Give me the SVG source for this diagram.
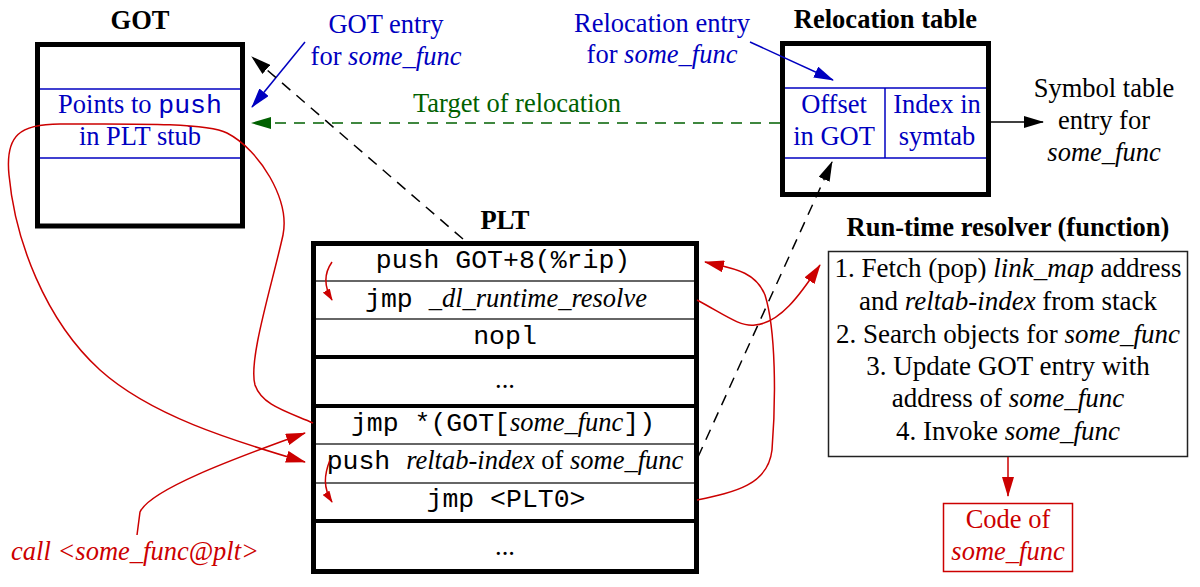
<svg xmlns="http://www.w3.org/2000/svg" width="1200" height="587" viewBox="0 0 1200 587">
<style>
text{font-family:"Liberation Serif","Times New Roman",serif;font-size:26.5px;text-anchor:middle}
.b{font-weight:bold}
.m{font-family:"Liberation Mono","Courier New",monospace}
.i{font-style:italic}
.blue{fill:#0000c0}
.green{fill:#006000}
.red{fill:#cc0000}
.frame{fill:#fff;stroke:#000;stroke-width:5}
.thin{stroke:#333;stroke-width:1.5}
.thick{stroke:#000;stroke-width:4}
.bl{stroke:#0000c0;stroke-width:1.5;fill:none}
.rl{stroke:#cc0000;stroke-width:1.5;fill:none}
.dash{stroke:#000;stroke-width:1.5;stroke-dasharray:11 8;fill:none}
.gdash{stroke:#006000;stroke-width:1.5;stroke-dasharray:11 8;fill:none}
</style>
<defs>
<marker id="ak" markerWidth="20" markerHeight="12" refX="19" refY="6" orient="auto" markerUnits="userSpaceOnUse"><path d="M0,0 L20,6 L0,12 z" fill="#000"/></marker>
<marker id="ab" markerWidth="20" markerHeight="12" refX="19" refY="6" orient="auto" markerUnits="userSpaceOnUse"><path d="M0,0 L20,6 L0,12 z" fill="#0000c0"/></marker>
<marker id="ag" markerWidth="20" markerHeight="12" refX="19" refY="6" orient="auto" markerUnits="userSpaceOnUse"><path d="M0,0 L20,6 L0,12 z" fill="#006000"/></marker>
<marker id="ar" markerWidth="20" markerHeight="12" refX="19" refY="6" orient="auto" markerUnits="userSpaceOnUse"><path d="M0,0 L20,6 L0,12 z" fill="#cc0000"/></marker>
<marker id="ars" markerWidth="12" markerHeight="8" refX="11" refY="4" orient="auto" markerUnits="userSpaceOnUse"><path d="M0,0 L12,4 L0,8 z" fill="#cc0000"/></marker>
</defs>
<rect width="1200" height="587" fill="#fff"/>

<g id="got">
<text class="b" x="140" y="29">GOT</text>
<rect class="frame" x="37.5" y="44.5" width="205" height="181.5"/>
<line class="bl" x1="40" y1="89" x2="240" y2="89"/>
<line class="bl" x1="40" y1="158" x2="240" y2="158"/>
<text class="blue" x="140" y="113">Points to <tspan class="m">push</tspan></text>
<text class="blue" x="140" y="145">in PLT stub</text>
</g>

<g id="reloc">
<text class="b" x="885.5" y="28">Relocation table</text>
<rect class="frame" x="782.5" y="43.5" width="206" height="151"/>
<line class="bl" x1="785" y1="88" x2="986" y2="88"/>
<line class="bl" x1="785" y1="158" x2="986" y2="158"/>
<line class="bl" x1="885" y1="88" x2="885" y2="158"/>
<text class="blue" x="834" y="113">Offset</text>
<text class="blue" x="834" y="145">in GOT</text>
<text class="blue" x="937" y="113">Index in</text>
<text class="blue" x="937" y="145">symtab</text>
</g>

<g id="plt">
<text class="b" x="505" y="229">PLT</text>
<rect class="frame" x="313.5" y="243.5" width="383" height="328"/>
<line class="thin" x1="316" y1="281" x2="694" y2="281"/>
<line class="thin" x1="316" y1="319" x2="694" y2="319"/>
<line class="thick" x1="316" y1="357" x2="694" y2="357"/>
<line class="thick" x1="316" y1="406" x2="694" y2="406"/>
<line class="thin" x1="316" y1="444" x2="694" y2="444"/>
<line class="thin" x1="316" y1="483" x2="694" y2="483"/>
<line class="thick" x1="316" y1="521" x2="694" y2="521"/>
<text class="m" x="503" y="268">push GOT+8(%rip)</text>
<text x="506" y="307"><tspan class="m">jmp </tspan><tspan class="i">_dl_runtime_resolve</tspan></text>
<text class="m" x="505" y="344">nopl</text>
<text x="505" y="388">...</text>
<text x="503" y="431"><tspan class="m">jmp *(GOT[</tspan><tspan class="i">some_func</tspan><tspan class="m">])</tspan></text>
<text x="505" y="469"><tspan class="m">push </tspan><tspan class="i">reltab-index</tspan> of <tspan class="i">some_func</tspan></text>
<text class="m" x="506" y="507">jmp &lt;PLT0&gt;</text>
<text x="505" y="555">...</text>
</g>

<g id="resolver">
<text class="b" x="1008" y="236">Run-time resolver (function)</text>
<rect x="828.5" y="251.5" width="359" height="205" fill="#fff" stroke="#222" stroke-width="1.5"/>
<text x="1008" y="277" style="font-size:27px">1. Fetch (pop) <tspan class="i">link_map</tspan> address</text>
<text x="1008" y="310" style="font-size:27px">and <tspan class="i">reltab-index</tspan> from stack</text>
<text x="1008" y="343" style="font-size:27px">2. Search objects for <tspan class="i">some_func</tspan></text>
<text x="1008" y="375" style="font-size:27px">3. Update GOT entry with</text>
<text x="1008" y="407" style="font-size:27px">address of <tspan class="i">some_func</tspan></text>
<text x="1008" y="440" style="font-size:27px">4. Invoke <tspan class="i">some_func</tspan></text>
</g>

<g id="code">
<rect x="943.5" y="503.5" width="129" height="68" fill="#fff" stroke="#cc0000" stroke-width="1.5"/>
<text class="red" x="1008" y="528">Code of</text>
<text class="red i" x="1008" y="560">some_func</text>
</g>

<g id="got-entry-label">
<text class="blue" x="386" y="33">GOT entry</text>
<text class="blue" x="386" y="65">for <tspan class="i">some_func</tspan></text>
</g>

<g id="reloc-entry-label">
<text class="blue" x="662" y="32">Relocation entry</text>
<text class="blue" x="662" y="63">for <tspan class="i">some_func</tspan></text>
</g>

<g id="symtab-label">
<text x="1104" y="97">Symbol table</text>
<text x="1104" y="129">entry for</text>
<text class="i" x="1104" y="161">some_func</text>
</g>

<g id="call-label">
<text class="red i" x="135" y="560">call &lt;some_func@plt&gt;</text>
</g>

<g id="connectors">
<line class="bl" x1="305" y1="42" x2="252" y2="107" marker-end="url(#ab)"/>
<line class="bl" x1="750" y1="42" x2="833" y2="80" marker-end="url(#ab)"/>
<line class="dash" x1="463" y1="239" x2="252" y2="57" marker-end="url(#ak)"/>
<line class="gdash" x1="780" y1="123" x2="252" y2="123" marker-end="url(#ag)"/>
<text class="green" x="517" y="112">Target of relocation</text>
<line x1="991" y1="122" x2="1043" y2="122" stroke="#000" stroke-width="1.5" marker-end="url(#ak)"/>
<line class="dash" x1="698" y1="457" x2="832" y2="162" marker-end="url(#ak)"/>
<path class="rl" d="M137,535 L140,512 C150,490 230,460 305,433" marker-end="url(#ar)"/>
<path class="rl" d="M313,423 C285,411 262,405 255,385 C248,360 272,285 283,235 C290,200 260,150 227,133 C205,122 120,124 60,124 C20,124 5,135 9,175 C15,240 45,320 100,370 C150,415 230,440 305,462" marker-end="url(#ar)"/>
<path class="rl" d="M697,300 C725,315 740,327 755,325 C780,323 800,295 820,265" marker-end="url(#ar)"/>
<path class="rl" d="M697,500 C735,492 768,485 772,450 C776,400 776,330 765,295 C755,270 730,268 705,262" marker-end="url(#ar)"/>
<path class="rl" d="M332,262 C325,272 323,285 332,300" marker-end="url(#ars)"/>
<path class="rl" d="M330,460 C324,475 323,488 332,502" marker-end="url(#ars)"/>
<line class="rl" x1="1008" y1="457" x2="1008" y2="496" marker-end="url(#ar)"/>
</g>
</svg>
